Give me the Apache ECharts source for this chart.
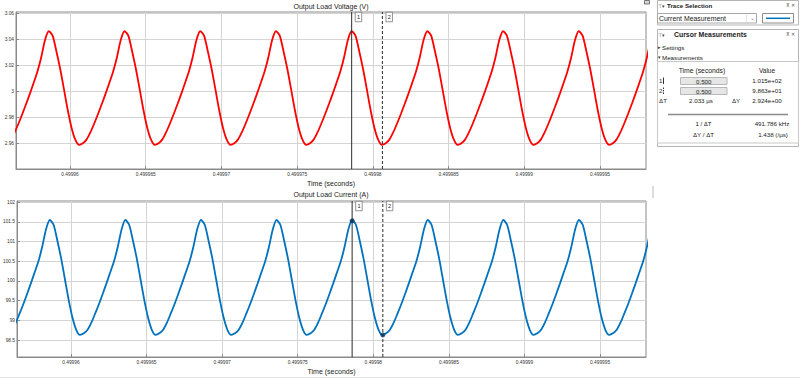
<!DOCTYPE html>
<html><head><meta charset="utf-8">
<script src="https://cdn.jsdelivr.net/npm/echarts@6/dist/echarts.min.js"></script>
<style>html,body{margin:0;padding:0;background:#fff}#c{width:800px;height:378px}</style>
</head><body><div id="c"></div>
<script>
// ---- data ----
const times = [
0.49995610,0.49995635,0.49995660,0.49995685, 0.49995710,0.49995735,0.49995760,0.49995785,
0.49995810,0.49995835,0.49995860,0.49995885, 0.49995910,0.49995935,0.49995960,0.49995985,
0.49996010,0.49996035,0.49996060,0.49996085, 0.49996110,0.49996135,0.49996160,0.49996185,
0.49996210,0.49996235,0.49996260,0.49996285, 0.49996310,0.49996335,0.49996360,0.49996385,
0.49996410,0.49996435,0.49996460,0.49996485, 0.49996510,0.49996535,0.49996560,0.49996585,
0.49996610,0.49996635,0.49996660,0.49996685, 0.49996710,0.49996735,0.49996760,0.49996785,
0.49996810,0.49996835,0.49996860,0.49996885, 0.49996910,0.49996935,0.49996960,0.49996985,
0.49997010,0.49997035,0.49997060,0.49997085, 0.49997110,0.49997135,0.49997160,0.49997185,
0.49997210,0.49997235,0.49997260,0.49997285, 0.49997310,0.49997335,0.49997360,0.49997385,
0.49997410,0.49997435,0.49997460,0.49997485, 0.49997510,0.49997535,0.49997560,0.49997585,
0.49997610,0.49997635,0.49997660,0.49997685, 0.49997710,0.49997735,0.49997760,0.49997785,
0.49997810,0.49997835,0.49997860,0.49997885, 0.49997910,0.49997935,0.49997960,0.49997985,
0.49998010,0.49998035,0.49998060,0.49998085, 0.49998110,0.49998135,0.49998160,0.49998185,
0.49998210,0.49998235,0.49998260,0.49998285, 0.49998310,0.49998335,0.49998360,0.49998385,
0.49998410,0.49998435,0.49998460,0.49998485, 0.49998510,0.49998535,0.49998560,0.49998585,
0.49998610,0.49998635,0.49998660,0.49998685, 0.49998710,0.49998735,0.49998760,0.49998785,
0.49998810,0.49998835,0.49998860,0.49998885, 0.49998910,0.49998935,0.49998960,0.49998985,
0.49999010,0.49999035,0.49999060,0.49999085, 0.49999110,0.49999135,0.49999160,0.49999185,
0.49999210,0.49999235,0.49999260,0.49999285, 0.49999310,0.49999335,0.49999360,0.49999385,
0.49999410,0.49999435,0.49999460,0.49999485, 0.49999510,0.49999535,0.49999560,0.49999585,
0.49999610,0.49999635,0.49999660,0.49999685, 0.49999710,0.49999735,0.49999760,0.49999785,
0.49999810,0.49999835
];
const voltage = [
2.9630,2.9685,2.9752,2.9825,2.9902,2.9982,3.0065,3.0152,3.0262,3.0395,
3.0462,3.0428,3.0308,3.0173,3.0016,2.9856,2.9720,2.9628,2.9588,2.9600,2.9630,2.9685,2.9752,2.9825,2.9902,2.9982,3.0065,3.0152,3.0262,3.0395,
3.0462,3.0428,3.0308,3.0173,3.0016,2.9856,2.9720,2.9628,2.9588,2.9600,2.9630,2.9685,2.9752,2.9825,2.9902,2.9982,3.0065,3.0152,3.0262,3.0395,
3.0462,3.0428,3.0308,3.0173,3.0016,2.9856,2.9720,2.9628,2.9588,2.9600,2.9630,2.9685,2.9752,2.9825,2.9902,2.9982,3.0065,3.0152,3.0262,3.0395,
3.0462,3.0428,3.0308,3.0173,3.0016,2.9856,2.9720,2.9628,2.9588,2.9600,2.9630,2.9685,2.9752,2.9825,2.9902,2.9982,3.0065,3.0152,3.0262,3.0395,
3.0462,3.0428,3.0308,3.0173,3.0016,2.9856,2.9720,2.9628,2.9588,2.9600,2.9630,2.9685,2.9752,2.9825,2.9902,2.9982,3.0065,3.0152,3.0262,3.0395,
3.0462,3.0428,3.0308,3.0173,3.0016,2.9856,2.9720,2.9628,2.9588,2.9600,2.9630,2.9685,2.9752,2.9825,2.9902,2.9982,3.0065,3.0152,3.0262,3.0395,
3.0462,3.0428,3.0308,3.0173,3.0016,2.9856,2.9720,2.9628,2.9588,2.9600,2.9630,2.9685,2.9752,2.9825,2.9902,2.9982,3.0065,3.0152,3.0262,3.0395,
3.0462,3.0428,3.0308,3.0173,3.0016,2.9856,2.9720,2.9628,2.9588,2.9600,2.9630,2.9685,2.9752,2.9825,2.9902,2.9982,3.0065,3.0152,3.0262,3.0395
];
const current = [
98.76,98.94,99.17,99.41,99.67,99.94,100.22,100.50,100.87,101.31,
101.55,101.43,101.03,100.58,100.05,99.52,99.07,98.76,98.63,98.67,98.76,98.94,99.17,99.41,99.67,99.94,100.22,100.50,100.87,101.31,
101.55,101.43,101.03,100.58,100.05,99.52,99.07,98.76,98.63,98.67,98.76,98.94,99.17,99.41,99.67,99.94,100.22,100.50,100.87,101.31,
101.55,101.43,101.03,100.58,100.05,99.52,99.07,98.76,98.63,98.67,98.76,98.94,99.17,99.41,99.67,99.94,100.22,100.50,100.87,101.31,
101.55,101.43,101.03,100.58,100.05,99.52,99.07,98.76,98.63,98.67,98.76,98.94,99.17,99.41,99.67,99.94,100.22,100.50,100.87,101.31,
101.55,101.43,101.03,100.58,100.05,99.52,99.07,98.76,98.63,98.67,98.76,98.94,99.17,99.41,99.67,99.94,100.22,100.50,100.87,101.31,
101.55,101.43,101.03,100.58,100.05,99.52,99.07,98.76,98.63,98.67,98.76,98.94,99.17,99.41,99.67,99.94,100.22,100.50,100.87,101.31,
101.55,101.43,101.03,100.58,100.05,99.52,99.07,98.76,98.63,98.67,98.76,98.94,99.17,99.41,99.67,99.94,100.22,100.50,100.87,101.31,
101.55,101.43,101.03,100.58,100.05,99.52,99.07,98.76,98.63,98.67,98.76,98.94,99.17,99.41,99.67,99.94,100.22,100.50,100.87,101.31
];
const xTicks = [0.49996, 0.499965, 0.49997, 0.499975, 0.49998, 0.499985, 0.49999, 0.499995];
const xTickLabels = ['0.49996','0.499965','0.49997','0.499975','0.49998','0.499985','0.49999','0.499995'];
const vTicks = [2.96, 2.98, 3, 3.02, 3.04, 3.06];
const iTicks = [98.5, 99, 99.5, 100, 100.5, 101, 101.5, 102];
const xRange = [0.499956433, 0.499998038];
const vRange = [2.9402, 3.061];
const iRange = [98.068, 102.033];
const cursorTimes = [0.4999786, 0.49998063];
const cursorCurrent = [101.53, 98.63];
const cursorNames = ['1', '2'];

// ---- chart ----
const FONT = 'Liberation Sans, Arial, sans-serif';
const chart = echarts.init(document.getElementById('c'), null, {renderer: 'svg'});
const tickFmt = v => { const i = xTicks.findIndex(t => Math.abs(t - v) < 1e-10); return i >= 0 ? xTickLabels[i] : String(v); };

function xAxisCfg(g) {
  return {
    type: 'value', gridIndex: g, min: xRange[0], max: xRange[1],
    name: 'Time (seconds)', nameLocation: 'middle', nameGap: 10.5,
    nameTextStyle: {fontSize: 7, color: '#222', fontFamily: FONT},
    axisLine: {show: true, lineStyle: {color: '#8a8a8a', width: 1}},
    axisTick: {show: true, inside: true, length: 3, customValues: xTicks, lineStyle: {color: '#8a8a8a'}},
    axisLabel: {customValues: xTicks, formatter: tickFmt, fontSize: 4.8, margin: 3, color: '#333', fontFamily: FONT},
    splitLine: {show: true, lineStyle: {color: '#d4d4d4', width: 1}}
  };
}
function yAxisCfg(g, rng, ticks) {
  return {
    type: 'value', gridIndex: g, min: rng[0], max: rng[1],
    axisLine: {show: true, lineStyle: {color: '#8a8a8a', width: 1}},
    axisTick: {show: true, inside: true, length: 3, customValues: ticks, lineStyle: {color: '#8a8a8a'}},
    axisLabel: {customValues: ticks, fontSize: 4.8, margin: 2, color: '#333', fontFamily: FONT},
    splitLine: {show: true, lineStyle: {color: '#d4d4d4', width: 1}}
  };
}
function cursorSeries(g, rng) {
  return cursorTimes.map((t, i) => ({
    type: 'line', xAxisIndex: g, yAxisIndex: g, z: 3, silent: true, showSymbol: false,
    data: [[t, rng[0]], [t, rng[1]]],
    lineStyle: {color: '#2b2b2b', width: 1, type: i === 0 ? 'solid' : [3, 2]}
  }));
}
function cursorTags(yTop) {
  return {
    silent: true, animation: false,
    symbol: 'rect', symbolSize: [6.5, 9.5], symbolOffset: [6.8, 5],
    itemStyle: {color: '#fff', borderColor: '#7a7a7a', borderWidth: 0.8},
    label: {show: true, position: 'inside', fontSize: 5.5, color: '#222', fontFamily: FONT, formatter: p => p.name},
    data: cursorTimes.map((t, i) => ({name: cursorNames[i], coord: [t, yTop]}))
  };
}

const txt = (x, y, s, o) => Object.assign({type: 'text', x: x, y: y, silent: true,
  style: Object.assign({text: s, fontSize: 6.5, fill: '#222', fontFamily: FONT, verticalAlign: 'middle', align: 'left'}, o || {})});
const rect = (x, y, w, h, o) => ({type: 'rect', silent: true, shape: {x: x, y: y, width: w, height: h},
  style: Object.assign({fill: '#fff', stroke: '#b5b5b5', lineWidth: 1}, o || {})});
const line = (x1, y1, x2, y2, o) => ({type: 'line', silent: true, shape: {x1: x1, y1: y1, x2: x2, y2: y2},
  style: Object.assign({stroke: '#888', lineWidth: 1}, o || {})});

const panel = [
  rect(657.5, 0.5, 141, 24.5),
  txt(658, 5.5, '⊤▾', {fontSize: 5, fill: '#444'}),
  txt(667, 5.5, 'Trace Selection', {fontWeight: 'bold', fontSize: 6.2}),
  txt(786, 5, '⊼ ✕', {fontSize: 4.5, fill: '#555'}),
  rect(657.5, 13.5, 99, 9.5, {stroke: '#a8a8a8'}),
  txt(659, 18.3, 'Current Measurement', {fontSize: 6.9}),
  line(746.5, 14.5, 746.5, 22, {stroke: '#e2e2e2'}),
  txt(750, 18.3, '⌄', {fontSize: 5.5, fill: '#888'}),
  rect(762.5, 13.5, 31, 9.5, {stroke: '#8c8c8c'}),
  line(766, 18.3, 790, 18.3, {stroke: '#0072bd', lineWidth: 1.5}),

  rect(657.5, 29.5, 141, 117),
  txt(658, 34.8, '⊤▾', {fontSize: 5, fill: '#444'}),
  txt(674, 34.8, 'Cursor Measurements', {fontWeight: 'bold', fontSize: 6.9}),
  txt(786, 34.5, '⊼ ✕', {fontSize: 4.5, fill: '#555'}),
  txt(658, 47, '▸', {fontSize: 5, fill: '#333'}),
  txt(662, 47, 'Settings', {fontSize: 6.2}),
  txt(658, 57, '▾', {fontSize: 5, fill: '#333'}),
  txt(662, 57, 'Measurements', {fontSize: 6.2}),
  rect(657.5, 61.5, 141, 81.5, {stroke: '#c8c8c8'}),
  txt(702, 70.7, 'Time (seconds)', {align: 'center', fontSize: 6.8}),
  txt(767, 70.7, 'Value', {align: 'center', fontSize: 6.5}),
  txt(659, 80.7, '1', {fontSize: 6}),
  line(663.5, 77.5, 663.5, 84, {stroke: '#333'}),
  rect(680.5, 77.5, 46.5, 7, {fill: '#e6e6e6', stroke: '#b8b8b8'}),
  txt(703.7, 81, '0.500', {align: 'center', fontSize: 6.2}),
  txt(767, 80.7, '1.015e+02', {align: 'center', fontSize: 6.2}),
  txt(659, 90.7, '2', {fontSize: 6}),
  line(663.5, 87.5, 663.5, 94, {stroke: '#333', lineDash: [1.5, 1]}),
  rect(680.5, 87.5, 46.5, 7, {fill: '#e6e6e6', stroke: '#b8b8b8'}),
  txt(703.7, 91, '0.500', {align: 'center', fontSize: 6.2}),
  txt(767, 90.7, '9.863e+01', {align: 'center', fontSize: 6.2}),
  txt(659, 100.3, 'ΔT', {fontSize: 6.2}),
  txt(701, 100.3, '2.033 µs', {align: 'center', fontSize: 6.2}),
  txt(736, 100.3, 'ΔY', {align: 'center', fontSize: 6.2}),
  txt(767, 100.3, '2.924e+00', {align: 'center', fontSize: 6.2}),
  line(668, 114.3, 788, 114.3, {stroke: '#8a8a8a', lineWidth: 1.2}),
  line(668, 115.6, 788, 115.6, {stroke: '#e0e0e0', lineWidth: 1}),
  txt(703.5, 123.3, '1 / ΔT', {align: 'center', fontSize: 6.2}),
  txt(772, 123.3, '491.786 kHz', {align: 'center', fontSize: 6.2}),
  txt(703.5, 134, 'ΔY / ΔT', {align: 'center', fontSize: 6.2}),
  txt(773, 134, '1.438 (/µs)', {align: 'center', fontSize: 6.2}),

  rect(644.5, 0.5, 5, 3.5, {fill: '#d8d8d8', stroke: '#555', lineWidth: 0.8}),
  rect(652.5, 186.5, 1, 1, {fill: '#777', stroke: null}),
  rect(652.5, 188.5, 1, 1, {fill: '#777', stroke: null}),
  rect(652.5, 190.5, 1, 1, {fill: '#777', stroke: null}),
  rect(652.5, 192.5, 1, 1, {fill: '#777', stroke: null}),
  rect(652.5, 194.5, 1, 1, {fill: '#777', stroke: null}),
  rect(652.5, 196.5, 1, 1, {fill: '#777', stroke: null}),
  line(0, 377.5, 800, 377.5, {stroke: '#e4e4e4'})
];

chart.setOption({
  animation: false,
  backgroundColor: '#fff',
  title: [
    {text: 'Output Load Voltage (V)', left: 331, top: 2.5, padding: 0, textAlign: 'center',
     textStyle: {fontSize: 7, fontWeight: 'normal', color: '#222', fontFamily: FONT}},
    {text: 'Output Load Current (A)', left: 331, top: 191, padding: 0, textAlign: 'center',
     textStyle: {fontSize: 7, fontWeight: 'normal', color: '#222', fontFamily: FONT}}
  ],
  grid: [
    {left: 16, right: 154, top: 12, height: 157, show: true, borderColor: '#8a8a8a', borderWidth: 1, backgroundColor: '#fff'},
    {left: 16, right: 154, top: 201, height: 156, show: true, borderColor: '#8a8a8a', borderWidth: 1, backgroundColor: '#fff'}
  ],
  xAxis: [xAxisCfg(0), xAxisCfg(1)],
  yAxis: [yAxisCfg(0, vRange, vTicks), yAxisCfg(1, iRange, iTicks)],
  series: [
    {type: 'line', name: 'Output Load Voltage', xAxisIndex: 0, yAxisIndex: 0, showSymbol: false, smooth: 0.25, z: 2,
     data: times.map((t, i) => [t, voltage[i]]),
     lineStyle: {color: '#ff0000', width: 1.8}, itemStyle: {color: '#ff0000'},
     markPoint: cursorTags(vRange[1])},
    {type: 'line', name: 'Output Load Current', xAxisIndex: 1, yAxisIndex: 1, showSymbol: false, smooth: 0.25, z: 2,
     data: times.map((t, i) => [t, current[i]]),
     lineStyle: {color: '#0072bd', width: 1.8}, itemStyle: {color: '#0072bd'},
     markPoint: cursorTags(iRange[1])}
  ].concat(cursorSeries(0, vRange), cursorSeries(1, iRange), [
    {type: 'scatter', xAxisIndex: 1, yAxisIndex: 1, z: 5, symbolSize: 5, silent: true,
     itemStyle: {color: '#0b3560'},
     data: cursorTimes.map((t, i) => [t, cursorCurrent[i]])}
  ]),
  graphic: panel
});
</script></body></html>
